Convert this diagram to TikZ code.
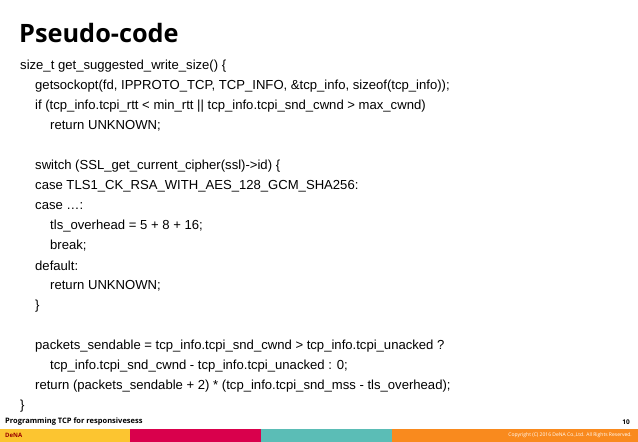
\documentclass[tikz,border=0pt]{standalone}
\usepackage{fontspec}
\setmainfont{Liberation Sans}
\newfontfamily\titlefont{Open Sans}
\definecolor{dyellow}{HTML}{FCC530}
\definecolor{dred}{HTML}{D9004C}
\definecolor{dteal}{HTML}{5BBDB6}
\definecolor{dorange}{HTML}{F98A1E}
\begin{document}
\begin{tikzpicture}[x=1pt,y=-1pt,
  code/.style={anchor=west,inner sep=0pt,font=\fontsize{13.1}{14}\selectfont},
  foot/.style={inner sep=0pt}]
\useasboundingbox (0,0) rectangle (638,442);
\fill[white] (0,0) rectangle (638,442);
\node[anchor=west,inner sep=0pt,font=\titlefont\bfseries\fontsize{25.3}{28}\selectfont] (title) at (19,33) {Pseudo-code};
\foreach \i/\x/\t in {
0/20/{size\_t get\_suggested\_write\_size() \{},
1/35/{getsockopt(fd, IPPROTO\_TCP, TCP\_INFO, \&tcp\_info, sizeof(tcp\_info));},
2/35/{if (tcp\_info.tcpi\_rtt < min\_rtt || tcp\_info.tcpi\_snd\_cwnd > max\_cwnd)},
3/50/{return UNKNOWN;},
5/35/{switch (SSL\_get\_current\_cipher(ssl)->id) \{},
6/35/{case TLS1\_CK\_RSA\_WITH\_AES\_128\_GCM\_SHA256:},
7/35/{case …:},
8/50/{tls\_overhead = 5 + 8 + 16;},
9/50/{break;},
10/35/{default:},
11/50/{return UNKNOWN;},
12/35/{\}},
14/35/{packets\_sendable = tcp\_info.tcpi\_snd\_cwnd > tcp\_info.tcpi\_unacked ?},
15/50/{tcp\_info.tcpi\_snd\_cwnd - tcp\_info.tcpi\_unacked : 0;},
16/35/{return (packets\_sendable + 2) * (tcp\_info.tcpi\_snd\_mss - tls\_overhead);},
17/20/{\}}}
  \node[code] (l\i) at (\x,{66+20*\i}) {\t};
\node[anchor=west,foot,font=\titlefont\bfseries\fontsize{7.5}{8}\selectfont] (ft) at (5,422) {Programming TCP for responsivesess};
\node[anchor=east,foot,font=\titlefont\bfseries\fontsize{6.5}{8}\selectfont] (pg) at (630,422) {10};
\fill[dyellow] (0,429) rectangle (130,442);
\fill[dred] (130,429) rectangle (261,442);
\fill[dteal] (261,429) rectangle (392,442);
\fill[dorange] (392,429) rectangle (638,442);
\node[anchor=west,foot,font=\titlefont\bfseries\fontsize{6}{7}\selectfont,text=red!60!black] (logo) at (5,435.5) {DeNA};
\node[anchor=east,foot,font=\titlefont\fontsize{5}{6}\selectfont,text=white] (copy) at (632,435.5) {Copyright (C) 2016 DeNA Co.,Ltd. All Rights Reserved.};
\end{tikzpicture}
\end{document}
